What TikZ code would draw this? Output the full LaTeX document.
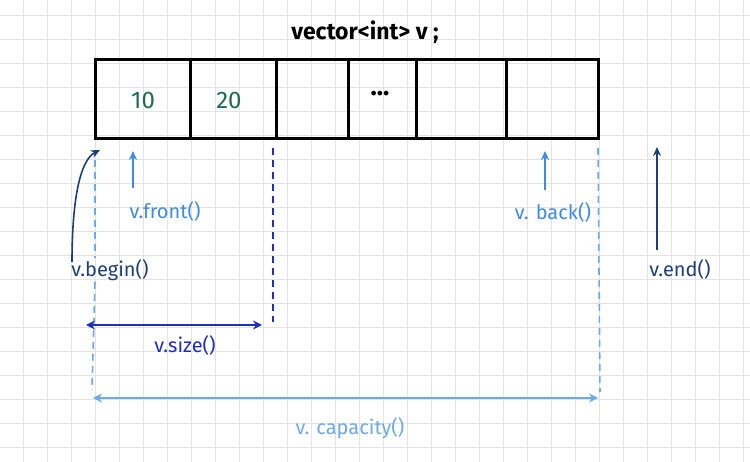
\documentclass[tikz,border=0pt]{standalone}
\usepackage{fontspec}
\setmainfont{Fira Sans}
\usetikzlibrary{arrows.meta}
\definecolor{navy}{HTML}{1C3F7A}
\definecolor{midblue}{HTML}{3D8AE8}
\definecolor{lightblue}{HTML}{6AAAF0}
\definecolor{sizeblue}{HTML}{1F2FB8}
\definecolor{numgreen}{HTML}{1E6B50}
\definecolor{grid}{HTML}{E3E3E3}
\tikzset{
  lbl/.style={font=\fontsize{20}{22}\selectfont, inner sep=1pt},
  cellbox/.style={draw=black, line width=3pt},
  arr/.style={line width=1.6pt, -{Stealth[length=9pt,width=8pt]}},
  dbl/.style={line width=1.8pt, {Stealth[length=9pt,width=9pt]}-{Stealth[length=9pt,width=9pt]}},
  dsh/.style={line width=1.6pt, dash pattern=on 7pt off 5pt}
}
\begin{document}
\begin{tikzpicture}[x=1pt,y=-1pt]
\useasboundingbox (0,0) rectangle (750,462);
\fill[white] (0,0) rectangle (750,462);
\foreach \i in {0,...,31} \draw[grid, line width=0.6pt] (23+24*\i,0) -- (23+24*\i,462);
\foreach \j in {0,...,19} \draw[grid, line width=0.6pt] (0,15+24*\j) -- (750,15+24*\j);
% title
\node[lbl, font=\fontsize{23}{25}\selectfont\bfseries] (title) at (365,32) {vector<int> v ;};
% box
\draw[cellbox] (95,60) rectangle (598,139);
\foreach \x in {190,276,348,416,506} \draw[cellbox] (\x,60) -- (\x,139);
\node[lbl, text=numgreen, font=\fontsize{24}{26}\selectfont] (n10) at (143,100) {10};
\node[lbl, text=numgreen, font=\fontsize{24}{26}\selectfont] (n20) at (229,100) {20};
\node[lbl, font=\fontsize{26}{28}\selectfont\bfseries] (dots) at (380,94) {...};
% begin
\node[lbl, text=navy] (vbegin) at (110,270) {v.begin()};
\coordinate (bs) at (72,262);
\coordinate (be) at (100,150);
\draw[arr, navy] (bs) .. controls (72,200) and (80,160) .. (be);
\coordinate (c1) at (95,160); \coordinate (c2) at (92,390);
\draw[dsh, lightblue] (c1) -- (vbegin.north -| c1);
\draw[dsh, lightblue] (vbegin.south -| c1) -- (c2);
% front
\node[lbl, text=midblue] (vfront) at (165,212) {v.front()};
\coordinate (fs) at (133,188); \coordinate (fe) at (133,151);
\draw[arr, midblue] (fs) -- (fe);
% size
\coordinate (s1) at (273,148); \coordinate (s2) at (273,322);
\draw[dsh, sizeblue] (s1) -- (s2);
\coordinate (sa) at (86,325); \coordinate (sb) at (262,325);
\draw[dbl, sizeblue] (sa) -- (sb);
\node[lbl, text=sizeblue] (vsize) at (185,346) {v.size()};
% back
\node[lbl, text=midblue] (vback) at (553,213) {v. back()};
\coordinate (bks) at (545,190); \coordinate (bke) at (545,151);
\draw[arr, midblue] (bks) -- (bke);
% capacity
\coordinate (k1) at (598,148); \coordinate (k2) at (600,392);
\draw[dsh, lightblue] (k1) -- (k2);
\coordinate (ka) at (93,398); \coordinate (kb) at (598,398);
\draw[dbl, lightblue] (ka) -- (kb);
\node[lbl, text=lightblue] (vcap) at (350,428) {v. capacity()};
% end
\node[lbl, text=navy] (vend) at (680,270) {v.end()};
\coordinate (es) at (657,250); \coordinate (ee) at (657,147);
\draw[arr, navy] (es) -- (ee);
\end{tikzpicture}
\end{document}
